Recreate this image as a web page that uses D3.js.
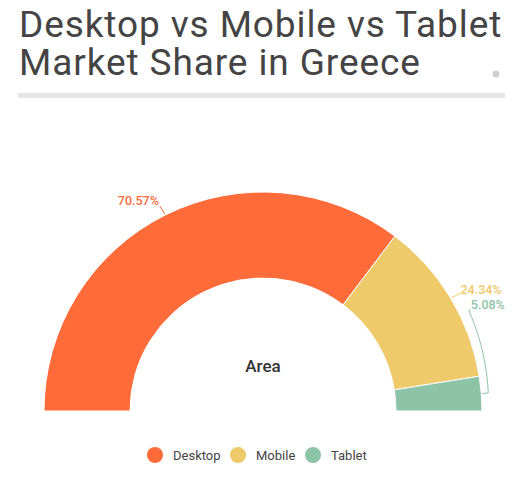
<!DOCTYPE html>
<html>
<head>
<meta charset="utf-8">
<script src="https://cdn.jsdelivr.net/npm/d3@7"></script>
<style>
  body { margin: 0; background: #fff; font-family: Roboto, "Noto Sans", sans-serif; }
</style>
</head>
<body>
<div id="chart"></div>
<script>
const titleLines = ["Desktop vs Mobile vs Tablet", "Market Share in Greece"];
const categories = ["Desktop", "Mobile", "Tablet"];
const shares = [70.57, 24.34, 5.08];
const colors = ["#ff6b39", "#efca6a", "#8dc3a7"];
const centerLabel = "Area";

const W = 526, H = 477;
const cx = 263, cy = 411;
const outerR = 219, innerR = 133;

const svg = d3.select("#chart").append("svg")
  .attr("width", W)
  .attr("height", H);

// title, one text block with a tspan per line
svg.append("text")
  .attr("class", "title")
  .style("font-size", "37px")
  .style("letter-spacing", "0.9px")
  .style("fill", "#444")
  .selectAll("tspan")
  .data(titleLines)
  .enter().append("tspan")
  .attr("x", 19)
  .attr("y", (d, i) => 37 + i * 38)
  .text(d => d);

svg.append("rect")
  .attr("x", 18).attr("y", 93)
  .attr("width", 487).attr("height", 5)
  .attr("fill", "#e6e6e6");

svg.append("circle")
  .attr("cx", 496).attr("cy", 74).attr("r", 3.5)
  .attr("fill", "#d0d0d0");

// half donut
const data = categories.map((c, i) => ({ name: c, value: shares[i], color: colors[i] }));

const pie = d3.pie()
  .sort(null)
  .value(d => d.value)
  .startAngle(-Math.PI / 2)
  .endAngle(Math.PI / 2);

const arcs = pie(data);

const arc = d3.arc()
  .innerRadius(innerR)
  .outerRadius(outerR);

const g = svg.append("g")
  .attr("transform", `translate(${cx},${cy})`);

g.selectAll("path.slice")
  .data(arcs)
  .enter().append("path")
  .attr("class", "slice")
  .attr("d", arc)
  .attr("fill", d => d.data.color)
  .attr("stroke", "#fff")
  .attr("stroke-width", 1);

g.append("text")
  .attr("x", 0)
  .attr("y", -39)
  .attr("text-anchor", "middle")
  .style("font-size", "17px")
  .style("font-weight", 500)
  .style("fill", "#333")
  .text(centerLabel);

// labels
function polar(r, a) {
  return [r * Math.sin(a), -r * Math.cos(a)];
}

const fmt = v => v.toFixed(2) + "%";

function label(x, y, anchor, d) {
  g.append("text")
    .attr("x", x)
    .attr("y", y)
    .attr("text-anchor", anchor)
    .style("font-size", "12.5px")
    .style("font-weight", 500)
    .style("fill", d.color)
    .text(fmt(d.value));
}

function leader(pts, color) {
  g.append("path")
    .attr("d", d3.line()(pts))
    .attr("fill", "none")
    .attr("stroke", color)
    .attr("stroke-width", 1);
}

// desktop label
{
  const a = arcs[0];
  const mid = (a.startAngle + a.endAngle) / 2;
  const p0 = polar(outerR + 1, mid);
  const p1 = [p0[0] - 5, p0[1] - 8];
  leader([p0, p1], a.data.color);
  label(p1[0] - 1, p1[1] - 1, "end", a.data);
}

// mobile label
{
  const a = arcs[1];
  const mid = (a.startAngle + a.endAngle) / 2;
  const p0 = polar(outerR + 1, mid);
  const p1 = [p0[0] + 9, p0[1] - 4];
  leader([p0, p1], a.data.color);
  label(p1[0], p1[1], "start", a.data);
}

// tablet label, leader runs along the outside of the arc
{
  const a = arcs[2];
  const mid = (a.startAngle + a.endAngle) / 2;
  const p0 = polar(outerR + 1, mid);
  const p1 = polar(outerR + 7, mid);
  const topA = 64 * Math.PI / 180;
  const pts = [p0, p1];
  const steps = 12;
  for (let k = 1; k <= steps; k++) {
    const t = k / steps;
    const ang = mid + (topA - mid) * t;
    pts.push(polar(outerR + 7 + 3 * t, ang));
  }
  const last = pts[pts.length - 1];
  pts.push([last[0] + 2, last[1] - 1]);
  leader(pts, a.data.color);
  label(last[0] + 2, last[1] - 2, "start", a.data);
}

// legend
const legendX = [155, 238, 313];
const legend = svg.selectAll("g.legend")
  .data(data)
  .enter().append("g")
  .attr("class", "legend")
  .attr("transform", (d, i) => `translate(${legendX[i]},455)`);

legend.append("circle")
  .attr("r", 8)
  .attr("fill", d => d.color);

legend.append("text")
  .attr("x", 18)
  .attr("y", 4.5)
  .style("font-size", "13px")
  .style("fill", "#444")
  .text(d => d.name);
</script>
</body>
</html>
